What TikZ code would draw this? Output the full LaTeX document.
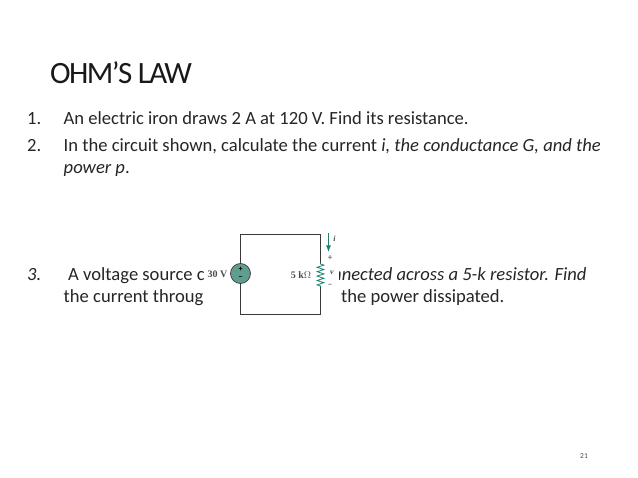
\documentclass[tikz,border=0pt]{standalone}
\usepackage{fontspec}
\setmainfont{Carlito}
\newfontfamily\circuitfont{Liberation Serif}
\usetikzlibrary{arrows.meta,decorations.pathmorphing}
\definecolor{srcgreen}{HTML}{5F9E8F}
\definecolor{arrowgreen}{HTML}{1F7F6F}
\definecolor{wiregray}{HTML}{3A3A3A}
\begin{document}
\begin{tikzpicture}[x=1pt,y=-1pt,
    body/.style={anchor=base west,inner sep=0pt,font=\fontsize{18.6}{19}\selectfont,text=black!85},
    title/.style={anchor=base west,inner sep=0pt,font=\fontsize{31}{32}\selectfont,text=black!90},
    wire/.style={draw=wiregray,line width=0.9pt},
    small/.style={inner sep=0pt,font=\circuitfont\bfseries\fontsize{10}{10}\selectfont,text=black!70},
    tiny/.style={inner sep=0pt,font=\circuitfont\itshape\bfseries\fontsize{8}{8}\selectfont,text=black!70},
    sign/.style={inner sep=0pt,font=\fontsize{8}{8}\selectfont\bfseries},
  ]
  \useasboundingbox (0,0) rectangle (638,478);
  \fill[white] (0,0) rectangle (638,478);
  \node[title] (head) at (50,84) {\addfontfeature{LetterSpace=-5}OHM’S LAW};
  % problem list
  \node[body] (n1) at (27,125) {1.};
  \node[body] (p1) at (63.5,125) {An electric iron draws 2 A at 120 V. Find its resistance.};
  \node[body] (n2) at (27,152) {2.};
  \node[body] (p2) at (63.5,152) {In the circuit shown, calculate the current \textit{i, the conductance G, and the}};
  \node[body] (p2b) at (63.5,174) {\textit{power p}.};
  \node[body] (n3) at (27,281) {\textit{3.}};
  \node[body] (p3) at (68,281) {A voltage source c};
  \node[body] (p3r) at (332,281) {\textit{nnected across a 5-k resistor. Find}};
  \node[body] (p3b) at (63.5,303) {the current throug};
  \node[body] (p3c) at (341,303) {the power dissipated.};
  % circuit
  \fill[white] (204,230) rectangle (339,318);
  \coordinate (tl) at (240.5,234);
  \coordinate (tr) at (320.5,234);
  \coordinate (bl) at (240.5,314);
  \coordinate (br) at (320.5,314);
  \coordinate (rtop) at (320.5,263);
  \coordinate (rbot) at (320.5,287);
  \node[circle,draw=wiregray,fill=srcgreen,line width=0.7pt,minimum size=20pt,inner sep=0pt] (src) at (240.5,273.5) {};
  \node[sign] (plus) at (240.5,268.8) {+};
  \node[sign] (minus) at (240.5,278.3) {−};
  \draw[wire] (src) -- (tl) -- (tr) -- (rtop);
  \draw[wire] (src) -- (bl) -- (br) -- (rbot);
  \draw[draw=arrowgreen,line width=0.8pt,decorate,decoration={zigzag,segment length=4.4pt,amplitude=3.4pt,pre length=1pt,post length=1pt}] (rtop) -- (rbot);
  \coordinate (itop) at (328.5,233.5);
  \coordinate (ibot) at (328.5,252);
  \draw[arrowgreen,line width=0.9pt,-{Latex[length=6.5pt,width=5pt]}] (itop) -- (ibot);
  \node[small] (lv) at (217.5,274) {30 V};
  \node[small] (lr) at (301,275) {5 k$\Omega$};
  \node[tiny] (li) at (334.5,239) {i};
  \node[tiny] (lvv) at (332,273) {v};
  \node[inner sep=0pt,font=\fontsize{9}{9}\selectfont,text=black!75] (rp) at (330,258.5) {+};
  \node[inner sep=0pt,font=\fontsize{9}{9}\selectfont,text=black!75] (rm) at (330,286) {−};
  \node[anchor=base,inner sep=0pt,font=\fontsize{7.5}{8}\selectfont,text=black!70] (page) at (584,459) {21};
\end{tikzpicture}
\end{document}
